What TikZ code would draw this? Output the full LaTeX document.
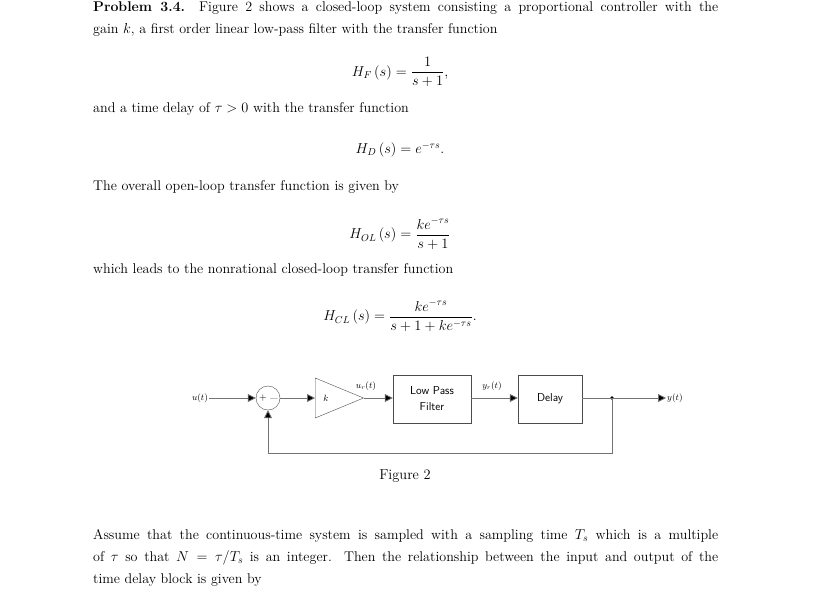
\documentclass[tikz,border=0pt]{standalone}
\usepackage{amsmath}
\usetikzlibrary{arrows.meta,shapes.geometric}
\begin{document}
\begin{tikzpicture}[x=1pt,y=-1pt,
 txt/.style={anchor=north west,inner sep=0pt,text width=625pt,align=justify,font=\fontsize{14.1}{22}\selectfont},
 eq/.style={inner sep=0pt,font=\fontsize{14.4}{17}\selectfont},
 blk/.style={draw=black!70,fill=white,minimum width=78pt,minimum height=48pt,align=center,font=\sffamily\fontsize{11.5}{16}\selectfont},
 sig/.style={draw=black!55,line width=0.8pt},
 arr/.style={sig,-{Triangle[length=8pt,width=8pt,fill=black]}},
 lab/.style={font=\itshape\fontsize{9}{10}\selectfont,inner sep=1pt}]
\useasboundingbox (0,0) rectangle (816,592);
\node[txt] (p1) at (93,2) {\textbf{Problem 3.4.} Figure 2 shows a closed-loop system consisting a proportional controller with the\linebreak gain $k$, a first order linear low-pass filter with the transfer function};
\node[eq] (e1) at (400,72) {$H_F\left(s\right)=\dfrac{1}{s+1},$};
\node[txt] (p2) at (93,102) {and a time delay of $\tau>0$ with the transfer function};
\node[eq] (e2) at (400,150) {$H_D\left(s\right)=e^{-\tau s}.$};
\node[txt] (p3) at (93,180) {The overall open-loop transfer function is given by};
\node[eq] (e3) at (400,234) {$H_{OL}\left(s\right)=\dfrac{ke^{-\tau s}}{s+1}$};
\node[txt] (p4) at (93,263) {which leads to the nonrational closed-loop transfer function};
\node[eq] (e4) at (400,316) {$H_{CL}\left(s\right)=\dfrac{ke^{-\tau s}}{s+1+ke^{-\tau s}}.$};
% diagram
\node[lab] (u) at (200,398) {$u(t)$};
\node[draw=black!70,circle,minimum size=24pt,inner sep=0pt] (sum) at (268,398) {};
\node[font=\fontsize{10}{10}\selectfont,inner sep=0pt] (pl) at (263,398) {+};
\node[font=\fontsize{10}{10}\selectfont,inner sep=0pt] (mi) at (274,398) {\_};
\node[draw=black!70,isosceles triangle,minimum height=36pt,minimum width=40pt,inner sep=0pt,anchor=west] (k) at (315,398) {};
\node[lab] (kl) at (326,398) {$k$};
\node[blk] (lpf) at (432,399) {Low Pass\\Filter};
\node[blk,minimum width=64pt] (del) at (550,399) {Delay};
\node[lab] (ur) at (366,386) {$u_r(t)$};
\node[lab] (yr) at (492,386) {$y_r(t)$};
\coordinate (j) at (612,398);
\fill[black] (j) circle (1.8pt);
\node[lab,anchor=west] (y) at (666,398) {$y(t)$};
\coordinate (c1) at (612,453);
\coordinate (c2) at (268,453);
\draw[arr] (u) -- (sum);
\draw[arr] (sum) -- (k.west);
\draw[arr] (k.east) -- (lpf.west |- k.east);
\draw[arr] (lpf.east |- k.east) -- (del.west |- k.east);
\draw[sig] (del.east |- k.east) -- (j);
\draw[arr] (j) -- (y);
\draw[arr] (j) -- (c1) -- (c2) -- (sum.south);
\node[font=\fontsize{14.4}{16}\selectfont] (fig) at (405,476) {Figure 2};
\node[txt] (p5) at (93,529) {Assume that the continuous-time system is sampled with a sampling time $T_s$ which is a multiple\linebreak of $\tau$ so that $N=\tau/T_s$ is an integer. Then the relationship between the input and output of the\linebreak time delay block is given by};
\end{tikzpicture}
\end{document}
